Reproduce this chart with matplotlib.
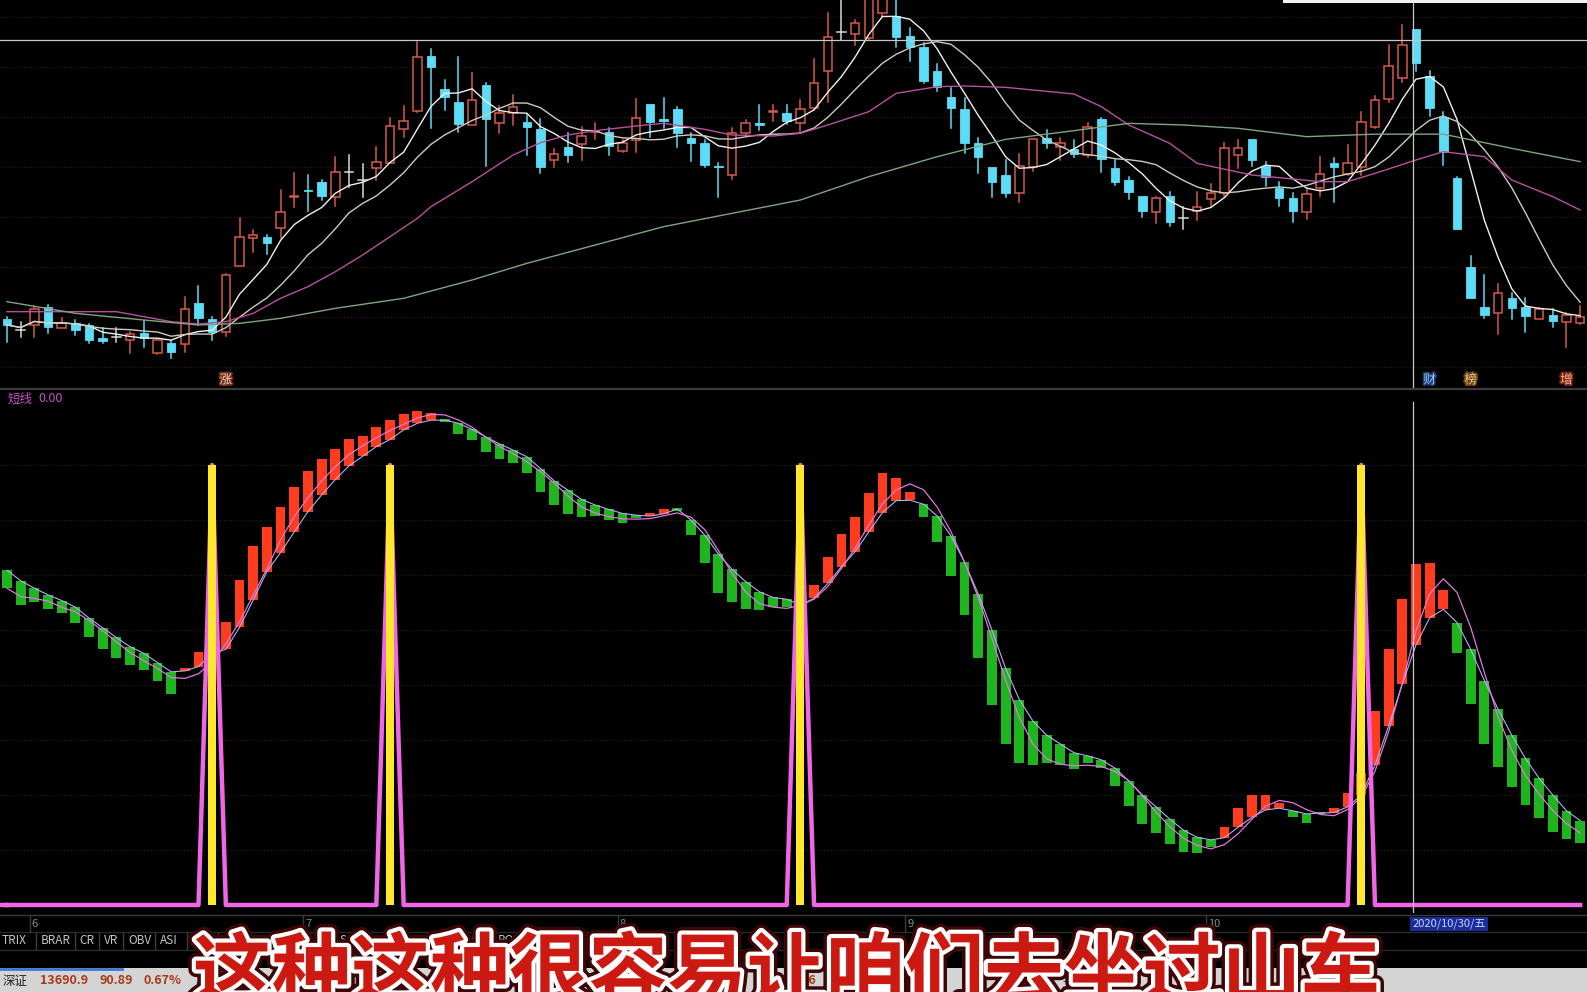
import numpy as np
import pandas as pd
import matplotlib
matplotlib.use('Agg')
import matplotlib.pyplot as plt
from matplotlib.patches import Rectangle
from matplotlib import transforms
import matplotlib.patheffects as pe

plt.rcParams['font.family'] = ['Noto Sans CJK SC', 'DejaVu Sans']

# ---- daily K line ----
k_open = [8.84, 8.20, 8.50, 9.60, 8.30, 8.64, 8.50, 7.70, 7.80, 7.60,
          8.00, 6.80, 7.40, 7.36, 9.84, 8.84, 8.10, 12.04, 13.70, 13.80,
          14.30, 16.16, 16.62, 17.10, 16.20, 17.66, 17.20, 17.94, 18.20, 20.24,
          21.34, 24.64, 22.64, 21.90, 20.50, 22.90, 20.64, 21.20, 20.70, 20.24,
          18.40, 19.20, 19.34, 20.06, 20.10, 18.96, 19.60, 21.76, 20.84, 21.48,
          19.70, 19.40, 18.06, 17.50, 20.04, 20.64, 21.28, 21.24, 20.60, 21.50,
          23.74, 26.06, 25.94, 25.70, 27.20, 27.04, 25.84, 25.20, 23.76, 22.20,
          21.44, 19.44, 18.00, 17.50, 16.40, 18.00, 19.70, 19.20, 19.04, 18.70,
          20.84, 17.90, 17.20, 16.24, 15.30, 16.24, 14.94, 15.36, 16.04, 16.44,
          18.70, 19.64, 18.06, 16.70, 16.10, 15.30, 16.70, 18.20, 17.56, 18.00,
          20.36, 22.04, 23.30, 26.24, 23.44, 21.00, 17.30, 12.00, 9.60, 9.20,
          10.14, 9.56, 8.84, 9.10, 8.70, 8.64]
k_high = [9.00, 8.70, 9.64, 9.70, 8.90, 8.80, 8.56, 8.30, 8.30, 8.10,
          8.76, 7.64, 7.56, 10.20, 10.84, 9.00, 11.54, 14.90, 14.20, 13.90,
          16.60, 17.64, 17.50, 17.20, 18.60, 18.70, 18.14, 19.20, 20.90, 21.64,
          25.50, 25.04, 23.20, 24.56, 23.60, 23.00, 21.64, 22.30, 21.10, 20.84,
          19.04, 20.00, 20.40, 20.64, 20.30, 19.60, 22.04, 21.76, 22.10, 21.56,
          20.00, 19.60, 18.20, 20.30, 20.80, 21.70, 21.70, 21.70, 22.00, 24.44,
          27.20, 28.40, 26.80, 28.80, 29.20, 28.00, 26.30, 25.44, 24.16, 22.70,
          22.10, 19.70, 18.00, 18.40, 18.76, 19.64, 20.20, 19.70, 19.60, 20.64,
          20.90, 18.40, 17.36, 16.24, 16.20, 16.50, 15.60, 16.50, 16.96, 19.44,
          19.60, 19.64, 18.30, 17.10, 16.40, 16.64, 18.60, 18.50, 19.30, 21.30,
          22.24, 25.30, 26.50, 26.24, 23.76, 21.30, 17.40, 12.64, 11.50, 10.96,
          10.44, 10.10, 9.50, 9.44, 9.20, 9.64]
k_low = [7.50, 7.80, 7.76, 8.00, 8.30, 7.90, 7.40, 7.44, 7.50, 6.80,
         7.20, 6.76, 6.50, 6.90, 8.50, 7.60, 7.84, 12.04, 12.90, 12.76,
         13.70, 15.60, 15.36, 16.00, 15.64, 16.80, 16.20, 17.20, 18.20, 19.76,
         21.30, 20.30, 21.40, 20.10, 20.50, 18.04, 20.04, 20.50, 18.70, 17.60,
         18.00, 18.30, 18.40, 19.64, 18.70, 18.90, 18.90, 19.80, 20.30, 19.16,
         18.36, 18.00, 16.20, 17.24, 19.84, 20.20, 20.76, 20.56, 20.16, 21.40,
         21.90, 25.60, 25.30, 25.60, 27.00, 25.20, 24.36, 23.00, 22.56, 20.30,
         18.80, 17.64, 16.20, 16.16, 15.90, 17.76, 19.10, 18.40, 18.60, 18.60,
         17.70, 16.90, 16.04, 14.96, 14.64, 14.44, 14.24, 14.80, 15.64, 16.24,
         17.90, 18.04, 16.84, 15.64, 14.70, 14.84, 16.24, 15.90, 17.50, 17.50,
         20.30, 21.90, 23.10, 23.76, 21.04, 18.10, 14.24, 10.14, 8.90, 7.96,
         8.84, 8.10, 8.84, 8.36, 7.20, 8.56]
k_close = [8.50, 8.20, 9.44, 8.36, 8.64, 8.20, 7.60, 7.52, 7.80, 7.94,
           7.70, 7.60, 6.90, 9.44, 8.90, 8.10, 11.50, 13.80, 13.90, 13.40,
           15.30, 16.24, 16.56, 16.24, 17.66, 17.66, 17.20, 18.30, 20.44, 20.76,
           24.60, 24.00, 22.20, 20.56, 22.00, 20.84, 21.24, 21.56, 20.40, 18.00,
           18.76, 18.70, 19.84, 20.16, 19.24, 19.40, 20.90, 20.70, 20.76, 20.00,
           19.40, 18.10, 18.00, 20.04, 20.64, 20.50, 21.36, 20.76, 21.44, 23.00,
           25.76, 26.06, 26.64, 28.20, 28.40, 25.80, 25.20, 23.16, 22.76, 21.50,
           19.40, 18.56, 17.10, 16.40, 18.06, 19.64, 19.44, 19.44, 18.76, 20.40,
           18.44, 17.10, 16.50, 15.36, 16.10, 14.70, 14.94, 15.56, 16.44, 19.10,
           19.14, 18.40, 17.36, 16.10, 15.36, 16.36, 17.56, 18.00, 18.20, 20.70,
           22.00, 24.04, 25.30, 24.20, 21.50, 18.90, 14.24, 10.14, 9.10, 10.40,
           9.50, 9.04, 9.44, 8.76, 9.10, 8.96]

# MA20 / MA60 as drawn (they carry history from before the window)
ma20_idx = [0, 3, 6, 8, 10, 12, 14, 16, 18, 20, 22, 24, 26, 28, 30, 31, 34, 37, 39, 41,
            43, 46, 48, 51, 53, 56, 58, 60, 63, 65, 68, 70, 73, 75, 78, 80, 82, 85, 87,
            91, 96, 98, 100, 103, 105, 108, 110, 113, 115]
ma20 = [9.30, 9.30, 9.30, 9.30, 9.00, 8.70, 8.56, 8.70, 9.20, 10.10, 10.80, 11.70, 12.70,
        13.80, 14.90, 15.60, 17.10, 18.70, 19.44, 19.90, 20.16, 20.44, 20.60, 20.24, 19.90,
        19.84, 20.00, 20.50, 21.30, 22.40, 22.80, 22.84, 22.76, 22.60, 22.36, 21.60, 20.50,
        19.40, 18.20, 17.50, 17.10, 17.10, 17.60, 18.40, 18.90, 18.60, 17.20, 16.20, 15.40]
ma60_idx = [0, 5, 10, 14, 17, 20, 24, 29, 34, 38, 43, 48, 53, 58, 63, 68, 73, 78, 82,
            86, 90, 95, 100, 105, 110, 115]
ma60 = [9.90, 9.20, 8.80, 8.50, 8.60, 8.90, 9.50, 10.10, 11.20, 12.20, 13.30, 14.40, 15.20,
        16.00, 17.40, 18.60, 19.64, 20.16, 20.60, 20.50, 20.30, 19.80, 19.95, 19.95, 19.10, 18.30]

# ---- 短线 indicator ----
ind_open = [76.1, 73.7, 72.0, 70.5, 69.2, 67.7, 65.2, 63.0, 60.8, 58.7,
            57.2, 55.1, 53.0, 53.2, 54.2, 57.2, 58.1, 63.1, 69.3, 75.8,
            80.1, 84.8, 89.4, 93.2, 96.7, 99.8, 102.0, 104.2, 105.8, 108.0,
            109.5, 110.2, 110.2, 109.5, 108.1, 106.4, 104.8, 103.4, 101.9, 99.2,
            96.4, 94.3, 92.2, 90.9, 89.9, 89.0, 88.6, 88.4, 88.9, 90.0,
            87.5, 84.1, 79.8, 76.3, 73.5, 71.2, 69.9, 69.5, 68.2, 69.7,
            73.1, 76.9, 80.3, 84.8, 89.2, 91.9, 92.0, 91.1, 88.4, 83.9,
            77.9, 70.7, 62.5, 53.8, 46.7, 41.8, 38.6, 36.6, 34.6, 33.9,
            33.0, 31.1, 28.2, 25.0, 22.3, 19.5, 17.0, 15.4, 14.8, 15.3,
            17.7, 19.9, 21.6, 22.0, 21.4, 20.7, 20.9, 21.0, 22.3, 25.0,
            31.8, 40.7, 50.2, 59.1, 65.3, 67.2, 64.2, 58.1, 51.0, 44.5,
            38.6, 33.3, 28.8, 25.0, 21.4, 19.2]
ind_close = [72.0, 68.2, 68.9, 67.2, 66.3, 64.2, 60.8, 58.1, 56.1, 54.5,
             53.4, 51.0, 48.0, 53.6, 57.6, 61.7, 64.4, 73.9, 81.6, 86.0,
             90.5, 95.1, 98.6, 101.3, 103.6, 105.9, 106.7, 108.6, 110.2, 111.6,
             112.3, 111.9, 109.8, 107.0, 105.7, 102.9, 101.3, 100.5, 98.3, 93.9,
             90.9, 88.8, 88.3, 88.4, 87.5, 86.9, 88.0, 88.9, 90.0, 89.6,
             84.1, 77.7, 71.0, 68.8, 67.2, 67.0, 67.8, 67.7, 69.9, 72.7,
             79.2, 84.3, 88.3, 93.7, 98.3, 97.0, 93.9, 88.3, 82.6, 74.8,
             65.9, 56.2, 45.5, 36.7, 32.2, 31.8, 32.2, 31.8, 30.8, 32.3,
             31.1, 27.1, 22.6, 18.4, 16.3, 13.9, 12.1, 11.9, 13.1, 17.8,
             22.0, 25.0, 25.0, 23.1, 19.9, 18.7, 20.6, 22.0, 25.5, 29.9,
             44.2, 58.1, 69.6, 77.5, 77.8, 71.7, 57.2, 45.7, 36.7, 31.4,
             26.9, 22.7, 19.7, 16.7, 14.9, 14.2]
signal_idx = [15, 28, 58, 99]
signal_val = 100

month_start = [2, 22, 45, 66, 88]
month_label = ['6', '7', '8', '9', '10']
cursor_idx = 103
cursor_date = '2020/10/30/五'
cursor_price = 25.6
tag_idx = [16, 104, 107, 114]
tag_text = ['涨', '财', '榜', '增']
tag_color = ['#f6dcc8', '#9fd0ff', '#f2c890', '#ffb49a']
tag_edge = ['#7a2a18', '#1c3a70', '#6a4412', '#7a2412']
tabs = ['TRIX', 'BRAR', 'CR', 'VR', 'OBV', 'ASI', 'EMV', 'VOL-TDX', 'RSI', 'WR',
        'SAR', 'KDJ', 'CCI', 'ROC', 'MTM', 'BOLL', 'PSY', 'MCST', '设置']
subtitle = '这种这种很容易让咱们去坐过山车'

n = len(k_close)
xs = np.arange(n)
W, H = 1587, 992

fig = plt.figure(figsize=(W / 100, H / 100), dpi=100, facecolor='black')
ax_k = fig.add_axes([0, 1 - 388 / H, 1, 388 / H])
ax_i = fig.add_axes([0, 1 - 913 / H, 1, (913 - 392) / H])
ax_ui = fig.add_axes([0, 0, 1, 1], zorder=5)
ax_ui.set_xlim(0, W)
ax_ui.set_ylim(H, 0)
ax_ui.axis('off')
for ax in (ax_k, ax_i):
    ax.set_facecolor('black')
    ax.set_xlim(-0.51, 115.5)
    ax.axis('off')
ax_k.set_ylim(4.72, 28.0)
ax_i.set_ylim(-1.82, 116.6)

grid_kw = dict(color='#3a1c1c', lw=0.8, ls=(0, (1, 2)), zorder=0)
for lv in np.arange(6, 28, 3):
    ax_k.axhline(lv, **grid_kw)
for lv in np.arange(12.5, 101, 12.5):
    ax_i.axhline(lv, **grid_kw)

# ---- candles ----
up_c, dn_c, eq_c = '#d65a4a', '#5cdcf6', '#d8d8d8'
bw = 0.62
for i in range(n):
    o, h, l, c = k_open[i], k_high[i], k_low[i], k_close[i]
    col = up_c if c > o else (dn_c if c < o else eq_c)
    top, bot = max(o, c), min(o, c)
    ax_k.plot([i, i], [top, h], color=col, lw=1.1, zorder=3)
    ax_k.plot([i, i], [l, bot], color=col, lw=1.1, zorder=3)
    if c > o:
        ax_k.add_patch(Rectangle((i - bw / 2, bot), bw, top - bot, facecolor='black',
                                 edgecolor=col, lw=1.1, zorder=4))
    elif c < o:
        ax_k.add_patch(Rectangle((i - bw / 2, bot), bw, top - bot, facecolor=col,
                                 edgecolor=col, lw=0.6, zorder=4))
    else:
        ax_k.plot([i - bw / 2, i + bw / 2], [o, o], color=col, lw=1.1, zorder=4)

close_s = pd.Series(k_close)
ax_k.plot(xs, close_s.rolling(5, min_periods=1).mean(), color='#f0f0f0', lw=1.0, zorder=5)
ax_k.plot(xs, close_s.rolling(10, min_periods=1).mean(), color='#cdcbbc', lw=1.0, zorder=5)
ax_k.plot(ma20_idx, ma20, color='#b8509e', lw=1.0, zorder=5)
ax_k.plot(ma60_idx, ma60, color='#80a47e', lw=1.0, zorder=5)

ax_k.axhline(cursor_price, color='#c8c8c8', lw=0.9, zorder=6)
ax_k.axvline(cursor_idx - 0.25, color='#c8c8c8', lw=0.9, zorder=6)

for xi, t, fc, ec in zip(tag_idx, tag_text, tag_color, tag_edge):
    ax_k.text(xi, 5.2, t, color=fc, fontsize=9, ha='center', va='center', zorder=7,
              path_effects=[pe.withStroke(linewidth=2.5, foreground=ec)])

# ---- indicator panel ----
for i in range(n):
    o, c = ind_open[i], ind_close[i]
    col = '#ff3c1e' if c >= o else '#1fb51f'
    ax_i.add_patch(Rectangle((i - 0.36, min(o, c)), 0.72, max(abs(c - o), 0.6),
                             facecolor=col, edgecolor='none', zorder=3))
ax_i.plot(xs, ind_open, color='#b4aef0', lw=0.8, zorder=4)
ax_i.plot(xs, pd.Series(ind_close).rolling(4, min_periods=1).mean(), color='#e078e0',
          lw=0.9, zorder=4)

sig = np.zeros(n)
sig[signal_idx] = signal_val
ax_i.plot(xs, sig, color='#f066e6', lw=3.2, solid_joinstyle='round', zorder=5)
ax_i.plot([-0.51, 0], [0, 0], color='#f066e6', lw=3.2, zorder=5)
ax_i.bar(signal_idx, [signal_val] * len(signal_idx), width=0.58, color='#ffe82c', zorder=6)
ax_i.plot([cursor_idx - 0.25] * 2, [-1.8, 114.3], color='#c8c8c8', lw=0.9, zorder=7)

# ---- interface strips ----
ax_ui.plot([0, W], [389, 389], color='#3c3c3c', lw=1.6)
ax_ui.add_patch(Rectangle((1283, 0), W - 1283, 3, facecolor='#f2f2f2', edgecolor='none'))
ax_ui.text(8, 399, '短线', color='#c452c4', fontsize=9, va='center')
ax_ui.text(38, 399, '0.00', color='#c452c4', fontsize=9, va='center')

ax_ui.plot([0, W], [915, 915], color='#3a3a3a', lw=1)
ax_ui.plot([0, W], [932, 932], color='#2a2a2a', lw=1)
ax_ui.plot([0, W], [950, 950], color='#2a2a2a', lw=1)
mix = transforms.blended_transform_factory(ax_i.transData, ax_ui.transData)
for m, lab in zip(month_start, month_label):
    ax_ui.plot([m - 0.35, m - 0.35], [915, 932], color='#3a3a3a', lw=1, transform=mix)
    ax_ui.text(m - 0.2, 924, lab, color='#8a8a8a', fontsize=8, va='center', transform=mix)
ax_ui.text(cursor_idx - 0.25, 924, cursor_date, color='#c8d4ff', fontsize=8, va='center',
           transform=mix, bbox=dict(boxstyle='square,pad=0.2', facecolor='#1c2c9c',
                                    edgecolor='none'))

tx = 2
for t in tabs:
    w = 7.2 * len(t) + 2 if t.isascii() else 24
    ax_ui.text(tx, 941, t, color='#c4c4c4', fontsize=8.5, va='center')
    tx += w + 8
    ax_ui.plot([tx - 5, tx - 5], [933, 949], color='#3c3c3c', lw=1)

ax_ui.add_patch(Rectangle((0, 968), W, 24, facecolor='#d4d4d4', edgecolor='none'))
ax_ui.plot([0, 122], [969, 969], color='#3a78d8', lw=2)
ax_ui.text(3, 981, '深证', color='#202020', fontsize=9, va='center')
ax_ui.text(40, 981, '13690.9', color='#a83a1a', fontsize=9, va='center', fontweight='bold')
ax_ui.text(100, 981, '90.89', color='#a83a1a', fontsize=9, va='center', fontweight='bold')
ax_ui.text(143, 981, '0.67%', color='#a83a1a', fontsize=9, va='center', fontweight='bold')
ax_ui.text(196, 981, '39', color='#303030', fontsize=9, va='center')
ax_ui.text(802, 981, '46', color='#a83a1a', fontsize=9, va='center', fontweight='bold')
ax_ui.text(1062, 979, '上涨', color='#202020', fontsize=8, va='center')
ax_ui.add_patch(Rectangle((1063, 986), 58, 6, facecolor='#26a0e0', edgecolor='none'))

ax_ui.text(786, 975, subtitle, color='#cc1a12', fontsize=57, fontweight='bold',
           ha='center', va='center', zorder=10,
           path_effects=[pe.Stroke(linewidth=11, foreground='#3c0606'),
                         pe.Stroke(linewidth=6, foreground='#ffffff'),
                         pe.Normal()])

fig.savefig('out.png', dpi=100, facecolor='black')
